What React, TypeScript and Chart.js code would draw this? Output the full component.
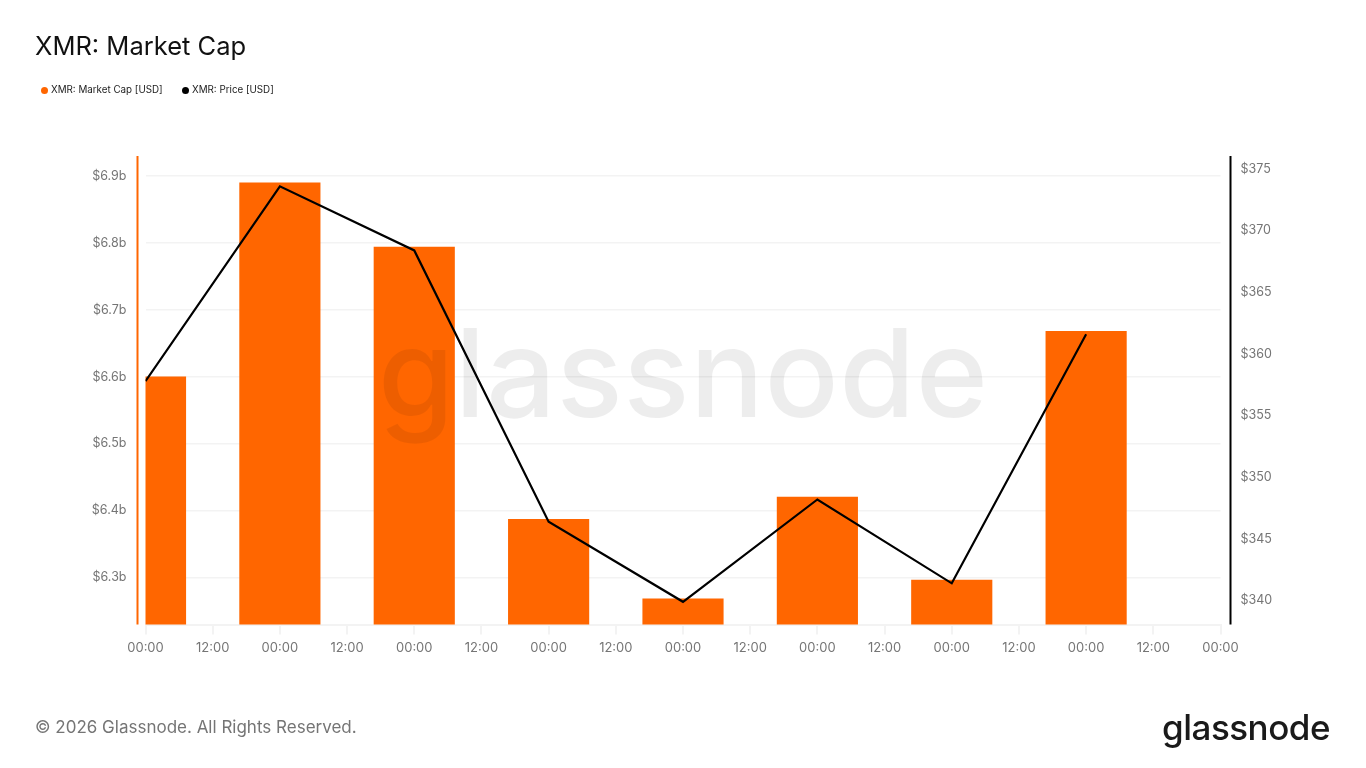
import { useEffect, useRef } from "react";
import { Chart, registerables } from "chart.js";

Chart.register(...registerables);

const hours = [0, 24, 48, 72, 96, 120, 144, 168];
const marketCap = [6.6, 6.89, 6.794, 6.387, 6.268, 6.42, 6.296, 6.668];
const price = [357.8, 373.6, 368.4, 346.4, 339.9, 348.2, 341.4, 361.6];
const xTickLabels = ["00:00", "12:00"];

const ORANGE = "#ff6600";
const GREY = "#757575";
const GRID = "#f3f3f3";
const FONT = "Inter, sans-serif";

// the two coloured axis lines sit a few px outside the plot area
const axisLines = {
  id: "axisLines",
  afterDraw(chart: Chart) {
    const { ctx, chartArea } = chart;
    ctx.save();
    ctx.lineWidth = 2;
    ctx.strokeStyle = ORANGE;
    ctx.beginPath();
    ctx.moveTo(chartArea.left - 8, chartArea.top);
    ctx.lineTo(chartArea.left - 8, chartArea.bottom);
    ctx.stroke();
    ctx.strokeStyle = "#000000";
    ctx.beginPath();
    ctx.moveTo(chartArea.right + 10, chartArea.top);
    ctx.lineTo(chartArea.right + 10, chartArea.bottom);
    ctx.stroke();
    ctx.restore();
  },
};

const text = (style: React.CSSProperties): React.CSSProperties => ({
  position: "absolute",
  fontFamily: FONT,
  whiteSpace: "nowrap",
  lineHeight: 1,
  ...style,
});

const dot = (color: string, left: number): React.CSSProperties => ({
  position: "absolute",
  left,
  top: 87,
  width: 7,
  height: 7,
  borderRadius: "50%",
  background: color,
});

const App = () => {
  const chartRef = useRef<HTMLCanvasElement>(null);

  useEffect(() => {
    document.body.style.margin = "0";
    const chart = new Chart(chartRef.current!, {
      type: "bar",
      data: {
        datasets: [
          {
            type: "line",
            label: "XMR: Price [USD]",
            data: hours.map((h, i) => ({ x: h, y: price[i] })),
            yAxisID: "yPrice",
            borderColor: "#000000",
            borderWidth: 2.2,
            pointRadius: 0,
            tension: 0,
            order: 1,
          },
          {
            type: "bar",
            label: "XMR: Market Cap [USD]",
            data: hours.map((h, i) => ({ x: h, y: marketCap[i] })),
            yAxisID: "yCap",
            backgroundColor: ORANGE,
            barThickness: 80.5,
            order: 2,
          },
        ],
      },
      options: {
        responsive: false,
        animation: false,
        layout: { padding: { top: 156 } },
        plugins: { legend: { display: false }, tooltip: { enabled: false } },
        scales: {
          x: {
            type: "linear",
            offset: false,
            min: 0,
            max: 192,
            afterFit: (scale) => {
              scale.height = 143.5;
            },
            border: { color: GRID, width: 2 },
            grid: { offset: false, drawOnChartArea: false, color: GRID, lineWidth: 2, tickLength: 10 },
            afterBuildTicks: (scale) => {
              scale.ticks = Array.from({ length: 17 }, (_, i) => ({ value: i * 12 }));
            },
            ticks: {
              autoSkip: false,
              maxRotation: 0,
              padding: 6,
              color: GREY,
              font: { family: FONT, size: 13 },
              callback: (value) => xTickLabels[Number(value) % 24 === 0 ? 0 : 1],
            },
          },
          yCap: {
            position: "left",
            min: 6.2297,
            max: 6.93,
            afterFit: (scale) => {
              scale.width = 145.5;
            },
            border: { display: false },
            grid: { color: GRID, lineWidth: 1.5, drawTicks: false },
            ticks: {
              stepSize: 0.1,
              includeBounds: false,
              padding: 19,
              color: GREY,
              font: { family: FONT, size: 12.5 },
              callback: (value) => `$${Number(value).toFixed(1)}b`,
            },
          },
          yPrice: {
            position: "right",
            min: 338.06,
            max: 376.06,
            afterFit: (scale) => {
              scale.width = 145.5;
            },
            border: { display: false },
            grid: { drawOnChartArea: false, drawTicks: false },
            ticks: {
              stepSize: 5,
              includeBounds: false,
              padding: 20,
              color: GREY,
              font: { family: FONT, size: 12.5 },
              callback: (value) => `$${value}`,
            },
          },
        },
      },
      plugins: [axisLines],
    });

    return () => {
      chart.destroy();
    };
  }, []);

  return (
    <div style={{ position: "relative", width: 1366, height: 768, background: "#ffffff", overflow: "hidden" }}>
      <canvas ref={chartRef} width={1366} height={768} style={{ position: "absolute", left: 0, top: 0 }} />
      <div style={text({ left: 378, top: 311, fontSize: 123, fontWeight: 500, letterSpacing: 0.5, color: "rgba(0,0,0,0.07)" })}>
        glassnode
      </div>
      <div style={text({ left: 35, top: 33, fontSize: 25.5, color: "#111111" })}>XMR: Market Cap</div>
      <span style={dot(ORANGE, 41)} />
      <div style={text({ left: 51, top: 85, fontSize: 9.8, color: "#222222" })}>XMR: Market Cap [USD]</div>
      <span style={dot("#000000", 182)} />
      <div style={text({ left: 192, top: 85, fontSize: 9.8, color: "#222222" })}>XMR: Price [USD]</div>
      <div style={text({ left: 35, top: 719, fontSize: 17, color: GREY })}>© 2026 Glassnode. All Rights Reserved.</div>
      <div style={text({ left: 1162, top: 710, fontSize: 35, fontWeight: 500, letterSpacing: -0.5, color: "#1a1a1a" })}>
        glassnode
      </div>
    </div>
  );
};

export default App;
